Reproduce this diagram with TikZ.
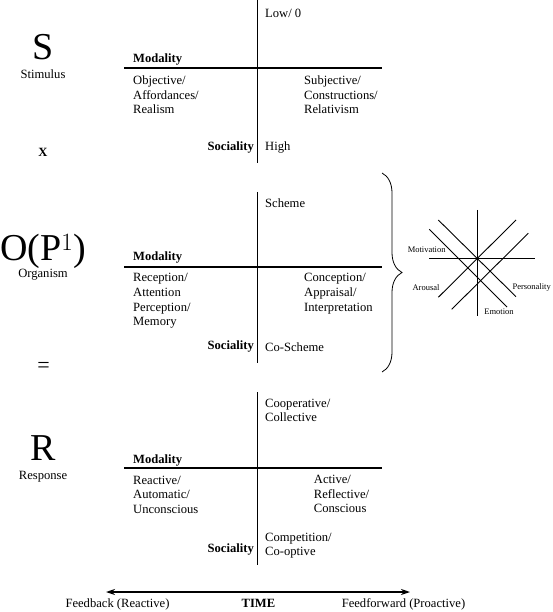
\documentclass[tikz,border=0pt]{standalone}
\usepackage{fontspec}
\setmainfont{Liberation Serif}
\usetikzlibrary{arrows.meta,decorations.pathreplacing}
\begin{document}
\begin{tikzpicture}[x=1pt,y=-1pt,
  txt/.style={inner sep=0pt,font=\fontsize{12.6}{14.6}\selectfont,align=left},
  lbl/.style={inner sep=0pt,font=\fontsize{12.6}{14.6}\selectfont\bfseries},
  big/.style={inner sep=0pt,font=\fontsize{38}{40}\selectfont},
  captxt/.style={inner sep=0pt,font=\fontsize{12.6}{14.6}\selectfont},
  small/.style={inner sep=0pt,font=\fontsize{8.5}{10}\selectfont},
  axisline/.style={line width=1.1pt},
  ray/.style={line width=0.9pt}]
\useasboundingbox (0,0) rectangle (552,612);

% ---------- left column ----------
\node[big,anchor=base] (S) at (43,60) {S};
\node[captxt,anchor=base] (Sl) at (43,79) {Stimulus};
\node[lbl,anchor=base] (X) at (43,156.7) {X};
\node[big,anchor=base] (O) at (43,260) {O(P$^{1}$)};
\node[captxt,anchor=base] (Ol) at (43,277.3) {Organism};
\node[inner sep=0pt,font=\fontsize{22}{24}\selectfont] (eq) at (43.5,367) {=};
\node[big,anchor=base] (R) at (43,460.7) {R};
\node[captxt,anchor=base] (Rl) at (43,479.3) {Response};

% ---------- quadrant 1 ----------
\coordinate (q1t) at (257.5,0);
\coordinate (q1b) at (257.5,163);
\coordinate (q1l) at (124,68);
\coordinate (q1r) at (382,68);
\draw[axisline] (q1t) -- (q1b);
\draw[axisline] (q1l) -- (q1r);
\node[txt,anchor=west] (low) at (265,13) {Low/ 0};
\node[lbl,anchor=west] (mod1) at (133,59) {Modality};
\node[txt,anchor=north west] (obj) at (133,75.5) {Objective/\\Affordances/\\Realism};
\node[txt,anchor=north west] (subj) at (304,75.5) {Subjective/\\Constructions/\\Relativism};
\node[lbl,anchor=east] (soc1) at (254,147) {Sociality};
\node[txt,anchor=west] (high) at (265,147) {High};

% ---------- quadrant 2 ----------
\coordinate (q2t) at (257.5,192);
\coordinate (q2b) at (257.5,363);
\coordinate (q2l) at (124,267);
\coordinate (q2r) at (382,267);
\draw[axisline] (q2t) -- (q2b);
\draw[axisline] (q2l) -- (q2r);
\node[txt,anchor=west] (scheme) at (265,203.5) {Scheme};
\node[lbl,anchor=west] (mod2) at (133,257.7) {Modality};
\node[txt,anchor=north west] (recep) at (133,273.3) {Reception/\\Attention\\Perception/\\Memory};
\node[txt,anchor=north west] (concep) at (304,273.3) {Conception/\\Appraisal/\\Interpretation};
\node[lbl,anchor=east] (soc2) at (254,346.7) {Sociality};
\node[txt,anchor=west] (cosch) at (265,346.7) {Co-Scheme};

% brace
\coordinate (bt) at (382,173);
\coordinate (bb) at (382,372);
\draw[line width=0.8pt,decorate,decoration={brace,amplitude=20pt}] (bt) -- (bb);

% star
\coordinate (c) at (477.3,258.3);
\draw[ray] (429.3,258.3) -- (535,258.3);
\draw[ray] (477.3,210) -- (477.3,316);
\draw[ray] (438.3,220) -- (516,296.7);
\draw[ray] (429.3,229.3) -- (507,307);
\draw[ray] (438.3,297.3) -- (516,220);
\draw[ray] (451.7,309.3) -- (528.3,233.3);
\node[small] (mot) at (426.7,249.3) {Motivation};
\node[small] (aro) at (426,287.3) {Arousal};
\node[small] (per) at (531.7,287.3) {Personality};
\node[small] (emo) at (499,311.7) {Emotion};

% ---------- quadrant 3 ----------
\coordinate (q3t) at (257.5,392);
\coordinate (q3b) at (257.5,565);
\coordinate (q3l) at (124,468);
\coordinate (q3r) at (382,468);
\draw[axisline] (q3t) -- (q3b);
\draw[axisline] (q3l) -- (q3r);
\node[txt,anchor=north west] (coop) at (265,398.5) {Cooperative/\\Collective};
\node[lbl,anchor=west] (mod3) at (133,460.5) {Modality};
\node[txt,anchor=north west] (react) at (133,475.7) {Reactive/\\Automatic/\\Unconscious};
\node[txt,anchor=north west] (act) at (313.7,475) {Active/\\Reflective/\\Conscious};
\node[txt,anchor=north west] (comp) at (265,532.7) {Competition/\\Co-optive};
\node[lbl,anchor=east] (soc3) at (254,549.5) {Sociality};

% ---------- time axis ----------
\coordinate (tl) at (106,592);
\coordinate (tr) at (410,592);
\draw[line width=2.2pt,{Stealth[length=9pt,width=6pt]}-{Stealth[length=9pt,width=6pt]}] (tl) -- (tr);
\node[captxt,anchor=base] (fb) at (117.5,607) {Feedback (Reactive)};
\node[lbl,anchor=base] (time) at (258.4,607) {TIME};
\node[captxt,anchor=base] (ff) at (403.5,607) {Feedforward (Proactive)};
\end{tikzpicture}
\end{document}
